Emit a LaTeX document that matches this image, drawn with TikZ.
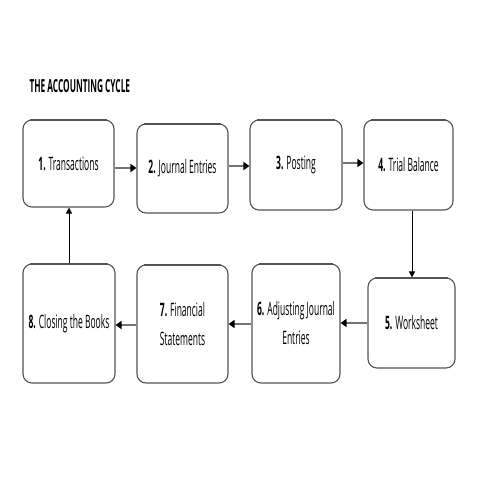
\documentclass[tikz,border=0pt]{standalone}
\usepackage{fontspec}
\setmainfont{Open Sans}[FakeStretch=0.46]
\usetikzlibrary{arrows.meta}
\definecolor{boxline}{gray}{0.33}
\definecolor{shaft}{gray}{0.45}
\tikzset{
  stepbox/.style={draw=boxline, line width=1.1pt, rounded corners=9pt, fill=white,
    align=center, inner sep=2pt, font=\fontsize{18.5}{29}\selectfont},
  flow/.style={draw=shaft, line width=2.8pt, -{Triangle[length=6pt,width=8pt,black]}},
  vflow/.style={draw=black, line width=0.7pt, -{Triangle[length=6pt,width=6pt,black]}},
  topedge/.style={draw=boxline, line width=2.2pt},
}
\begin{document}
\begin{tikzpicture}[x=1pt,y=-1pt]
\useasboundingbox (0,0) rectangle (480,480);
\node[anchor=west, font=\fontsize{18}{20}\selectfont\bfseries] (title) at (26,86) {THE ACCOUNTING CYCLE};
\node[stepbox, minimum width=91pt, minimum height=87pt] (b1) at (68.5,163.5) {\textbf{1.} Transactions};
\node[stepbox, minimum width=91pt, minimum height=89pt] (b2) at (182.5,168.5) {\textbf{2.} Journal Entries};
\node[stepbox, minimum width=92pt, minimum height=90pt] (b3) at (296,165) {\textbf{3.} Posting};
\node[stepbox, minimum width=89pt, minimum height=90pt] (b4) at (408.5,165) {\textbf{4.} Trial Balance};
\node[stepbox, minimum width=87pt, minimum height=90pt] (b5) at (411.5,323) {\textbf{5.} Worksheet};
\node[stepbox, minimum width=88pt, minimum height=119pt] (b6) at (296,323.5) {\textbf{6.} Adjusting Journal\\Entries};
\node[stepbox, minimum width=91pt, minimum height=118pt] (b7) at (182.5,324) {\textbf{7.} Financial\\Statements};
\node[stepbox, minimum width=92pt, minimum height=119pt] (b8) at (69,323.5) {\textbf{8.} Closing the Books};
\foreach \b in {b1,b2,b3,b4,b5,b6,b7,b8}
  \draw[topedge] ([xshift=8pt,yshift=-0.6pt]\b.north west) -- ([xshift=-8pt,yshift=-0.6pt]\b.north east);
\draw[flow] (b1.east |- 0,168) -- (b2.west |- 0,168);
\draw[flow] (b2.east |- 0,166) -- (b3.west |- 0,166);
\draw[flow] (b3.east |- 0,163) -- (b4.west |- 0,163);
\draw[vflow] (b4.south -| 412,0) -- (b5.north -| 412,0);
\draw[flow] (b5.west |- 0,323) -- (b6.east |- 0,323);
\draw[flow] (b6.west |- 0,324) -- (b7.east |- 0,324);
\draw[flow] (b7.west |- 0,325) -- (b8.east |- 0,325);
\draw[vflow] (b8.north -| 69,0) -- (b1.south -| 69,0);
\end{tikzpicture}
\end{document}
